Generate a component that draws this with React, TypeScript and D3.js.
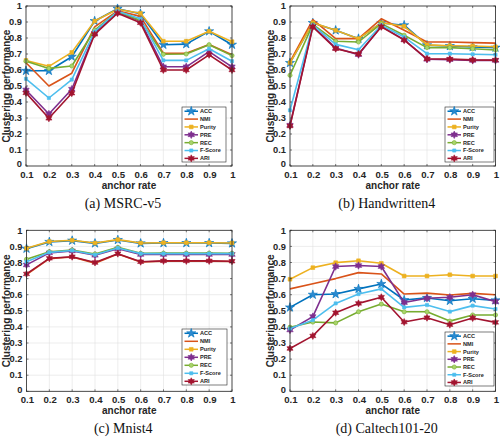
import * as d3 from "d3";

// anchor rates on the x axis
const anchorRates = [0.1, 0.2, 0.3, 0.4, 0.5, 0.6, 0.7, 0.8, 0.9, 1];
const yTicks = [0, 0.1, 0.2, 0.3, 0.4, 0.5, 0.6, 0.7, 0.8, 0.9, 1];
const metricNames = ["ACC", "NMI", "Purity", "PRE", "REC", "F-Score", "ARI"];

// (a) MSRC-v5
const msrcAcc = [0.595, 0.595, 0.683, 0.906, 0.983, 0.952, 0.758, 0.762, 0.842, 0.758];
const msrcNmi = [0.645, 0.5, 0.58, 0.87, 0.97, 0.935, 0.705, 0.705, 0.76, 0.695];
const msrcPurity = [0.66, 0.623, 0.71, 0.906, 0.98, 0.955, 0.78, 0.78, 0.842, 0.777];
const msrcPre = [0.475, 0.325, 0.48, 0.83, 0.96, 0.906, 0.62, 0.62, 0.715, 0.62];
const msrcRec = [0.655, 0.61, 0.625, 0.85, 0.965, 0.91, 0.698, 0.7, 0.758, 0.69];
const msrcFscore = [0.545, 0.425, 0.54, 0.84, 0.967, 0.92, 0.66, 0.66, 0.733, 0.655];
const msrcAri = [0.457, 0.298, 0.455, 0.823, 0.955, 0.895, 0.6, 0.6, 0.695, 0.6];

// (b) Handwritten4
const hwAcc = [0.644, 0.894, 0.848, 0.796, 0.894, 0.88, 0.755, 0.75, 0.744, 0.74];
const hwNmi = [0.65, 0.915, 0.796, 0.796, 0.92, 0.848, 0.775, 0.775, 0.771, 0.768];
const hwPurity = [0.645, 0.895, 0.848, 0.796, 0.895, 0.873, 0.757, 0.752, 0.75, 0.745];
const hwPre = [0.255, 0.873, 0.738, 0.696, 0.873, 0.79, 0.667, 0.665, 0.66, 0.66];
const hwRec = [0.567, 0.885, 0.78, 0.775, 0.89, 0.817, 0.74, 0.74, 0.733, 0.725];
const hwFscore = [0.348, 0.88, 0.76, 0.727, 0.88, 0.806, 0.702, 0.702, 0.698, 0.695];
const hwAri = [0.25, 0.87, 0.733, 0.7, 0.87, 0.787, 0.67, 0.668, 0.663, 0.662];

// (c) Mnist4
const mnAcc = [0.886, 0.928, 0.936, 0.919, 0.94, 0.919, 0.921, 0.921, 0.921, 0.919];
const mnNmi = [0.725, 0.824, 0.834, 0.796, 0.853, 0.803, 0.808, 0.808, 0.808, 0.806];
const mnPurity = [0.888, 0.93, 0.938, 0.921, 0.942, 0.921, 0.923, 0.923, 0.923, 0.921];
const mnPre = [0.785, 0.86, 0.872, 0.845, 0.885, 0.85, 0.85, 0.85, 0.85, 0.85];
const mnRec = [0.82, 0.867, 0.878, 0.853, 0.894, 0.857, 0.858, 0.858, 0.858, 0.857];
const mnFscore = [0.805, 0.863, 0.875, 0.848, 0.89, 0.855, 0.855, 0.855, 0.855, 0.855];
const mnAri = [0.729, 0.826, 0.836, 0.8, 0.855, 0.805, 0.81, 0.81, 0.81, 0.808];

// (d) Caltech101-20
const calAcc = [0.521, 0.6, 0.604, 0.636, 0.667, 0.567, 0.58, 0.562, 0.575, 0.565];
const calNmi = [0.636, 0.668, 0.7, 0.737, 0.729, 0.604, 0.61, 0.598, 0.608, 0.6];
const calPurity = [0.696, 0.768, 0.799, 0.811, 0.795, 0.716, 0.716, 0.724, 0.716, 0.716];
const calPre = [0.381, 0.464, 0.775, 0.781, 0.775, 0.551, 0.578, 0.584, 0.6, 0.557];
const calRec = [0.398, 0.43, 0.425, 0.494, 0.542, 0.494, 0.494, 0.436, 0.474, 0.474];
const calFscore = [0.39, 0.442, 0.546, 0.604, 0.636, 0.521, 0.536, 0.495, 0.532, 0.511];
const calAri = [0.266, 0.344, 0.488, 0.546, 0.584, 0.43, 0.457, 0.414, 0.455, 0.428];

const colors = ["#0072BD", "#D95319", "#EDB120", "#7E2F8E", "#77AC30", "#4DBEEE", "#A2142F"];
const fills = ["#2a8ad0", "none", "#EDB120", "#7E2F8E", "#a8d46a", "#4DBEEE", "#A2142F"];

const hexagram = {
  draw(ctx: any, size: number) {
    const r = Math.sqrt(size / 1.6);
    for (let i = 0; i < 12; i++) {
      const a = (i * Math.PI) / 6 - Math.PI / 2;
      const rr = i % 2 === 0 ? r : r * 0.55;
      const px = rr * Math.cos(a);
      const py = rr * Math.sin(a);
      if (i === 0) ctx.moveTo(px, py);
      else ctx.lineTo(px, py);
    }
    ctx.closePath();
  },
};

const markerPaths = [
  d3.symbol().type(d3.symbolStar).size(26)(),
  null,
  d3.symbol().type(d3.symbolSquare).size(14)(),
  d3.symbol().type(hexagram as any).size(22)(),
  d3.symbol().type(d3.symbolCircle).size(14)(),
  d3.symbol().type(d3.symbolSquare).size(10)(),
  d3.symbol().type(hexagram as any).size(20)(),
];

const sansFont = "'Liberation Sans', Arial, sans-serif";

interface PanelProps {
  left: number;
  top: number;
  width: number;
  height: number;
  series: number[][];
  caption: string;
  legend: { x: number; y: number; w: number; h: number };
}

function Panel({ left, top, width, height, series, caption, legend }: PanelProps) {
  const x = d3.scaleLinear().domain([0.1, 1]).range([left, left + width]);
  const y = d3.scaleLinear().domain([0, 1]).range([top + height, top]);
  const line = d3
    .line<number>()
    .x((_, i) => x(anchorRates[i]))
    .y((d) => y(d));
  const fmt = (v: number) => (v === 0 ? "0" : v === 1 ? "1" : v.toFixed(1));
  const rowH = legend.h / 7;

  return (
    <g>
      {/* grid */}
      {yTicks.map((t) => (
        <line key={"gy" + t} x1={left} x2={left + width} y1={y(t)} y2={y(t)} stroke="#e0e0e0" strokeWidth={0.6} />
      ))}
      {anchorRates.map((t) => (
        <line key={"gx" + t} x1={x(t)} x2={x(t)} y1={top} y2={top + height} stroke="#e0e0e0" strokeWidth={0.6} />
      ))}
      {/* series */}
      {series.map((vals, si) => (
        <g key={"s" + si}>
          <path d={line(vals) || ""} fill="none" stroke={colors[si]} strokeWidth={1.6} strokeLinejoin="round" />
          {markerPaths[si] &&
            vals.map((v, i) => (
              <path
                key={i}
                d={markerPaths[si] as string}
                transform={`translate(${x(anchorRates[i])},${y(v)})`}
                fill={fills[si]}
                stroke={colors[si]}
                strokeWidth={0.6}
              />
            ))}
        </g>
      ))}
      {/* axes box */}
      <rect x={left} y={top} width={width} height={height} fill="none" stroke="#262626" strokeWidth={0.8} />
      {yTicks.map((t) => (
        <g key={"ty" + t}>
          <line x1={left} x2={left + 2} y1={y(t)} y2={y(t)} stroke="#262626" strokeWidth={0.6} />
          <line x1={left + width} x2={left + width - 2} y1={y(t)} y2={y(t)} stroke="#262626" strokeWidth={0.6} />
          <text x={left - 4} y={y(t) - (t === 0 ? 2 : 0)} dy="0.35em" textAnchor="end" fontFamily={sansFont} fontWeight="bold" fontSize={9.3} fill="#262626">
            {fmt(t)}
          </text>
        </g>
      ))}
      {anchorRates.map((t) => (
        <g key={"tx" + t}>
          <line x1={x(t)} x2={x(t)} y1={top + height} y2={top + height - 2} stroke="#262626" strokeWidth={0.6} />
          <line x1={x(t)} x2={x(t)} y1={top} y2={top + 2} stroke="#262626" strokeWidth={0.6} />
          <text x={x(t) + 0.8} y={top + height + 11.5} textAnchor="middle" fontFamily={sansFont} fontWeight="bold" fontSize={9.6} fill="#262626">
            {fmt(t)}
          </text>
        </g>
      ))}
      <text
        transform={`translate(${left - 20},${top + height / 2}) rotate(-90)`}
        textAnchor="middle"
        dy="0.35em"
        fontFamily={sansFont}
        fontWeight="bold"
        fontSize={10}
        fill="#262626"
      >
        Clustering performance
      </text>
      <text x={left + width / 2} y={top + height + 23} textAnchor="middle" fontFamily={sansFont} fontWeight="bold" fontSize={10} fill="#262626">
        anchor rate
      </text>
      {/* legend */}
      <rect x={legend.x} y={legend.y} width={legend.w} height={legend.h} fill="#fff" stroke="#262626" strokeWidth={0.6} />
      {metricNames.map((name, i) => {
        const cy = legend.y + rowH * (i + 0.5) + 0.3;
        const lx1 = legend.x + 2.5;
        const lx2 = legend.x + 16;
        return (
          <g key={name}>
            <line x1={lx1} x2={lx2} y1={cy} y2={cy} stroke={colors[i]} strokeWidth={1.5} />
            {markerPaths[i] && (
              <path
                d={markerPaths[i] as string}
                transform={`translate(${(lx1 + lx2) / 2},${cy})`}
                fill={fills[i]}
                stroke={colors[i]}
                strokeWidth={0.6}
              />
            )}
            <text x={lx2 + 2} y={cy} dy="0.35em" fontFamily={sansFont} fontWeight="bold" fontSize={5.6} fill="#262626">
              {name}
            </text>
          </g>
        );
      })}
      <text
        x={left + width / 2 - 6}
        y={top + height + 42}
        textAnchor="middle"
        fontFamily="'Liberation Serif', 'Times New Roman', serif"
        fontSize={14}
        fill="#111"
      >
        {caption}
      </text>
    </g>
  );
}

export default function App() {
  return (
    <svg width={500} height={438} style={{ position: "absolute", left: 0, top: 0, background: "#fff" }}>
      <Panel
        left={26}
        top={6}
        width={206}
        height={160}
        series={[msrcAcc, msrcNmi, msrcPurity, msrcPre, msrcRec, msrcFscore, msrcAri]}
        caption="(a) MSRC-v5"
        legend={{ x: 182, y: 107, w: 44, h: 55 }}
      />
      <Panel
        left={290}
        top={6}
        width={205.5}
        height={160}
        series={[hwAcc, hwNmi, hwPurity, hwPre, hwRec, hwFscore, hwAri]}
        caption="(b) Handwritten4"
        legend={{ x: 445, y: 107, w: 49, h: 55 }}
      />
      <Panel
        left={26.5}
        top={230.3}
        width={205.5}
        height={161}
        series={[mnAcc, mnNmi, mnPurity, mnPre, mnRec, mnFscore, mnAri]}
        caption="(c) Mnist4"
        legend={{ x: 182, y: 329, w: 45, h: 56 }}
      />
      <Panel
        left={290}
        top={230.3}
        width={205.5}
        height={161}
        series={[calAcc, calNmi, calPurity, calPre, calRec, calFscore, calAri]}
        caption="(d) Caltech101-20"
        legend={{ x: 445, y: 332, w: 49, h: 54 }}
      />
    </svg>
  );
}
